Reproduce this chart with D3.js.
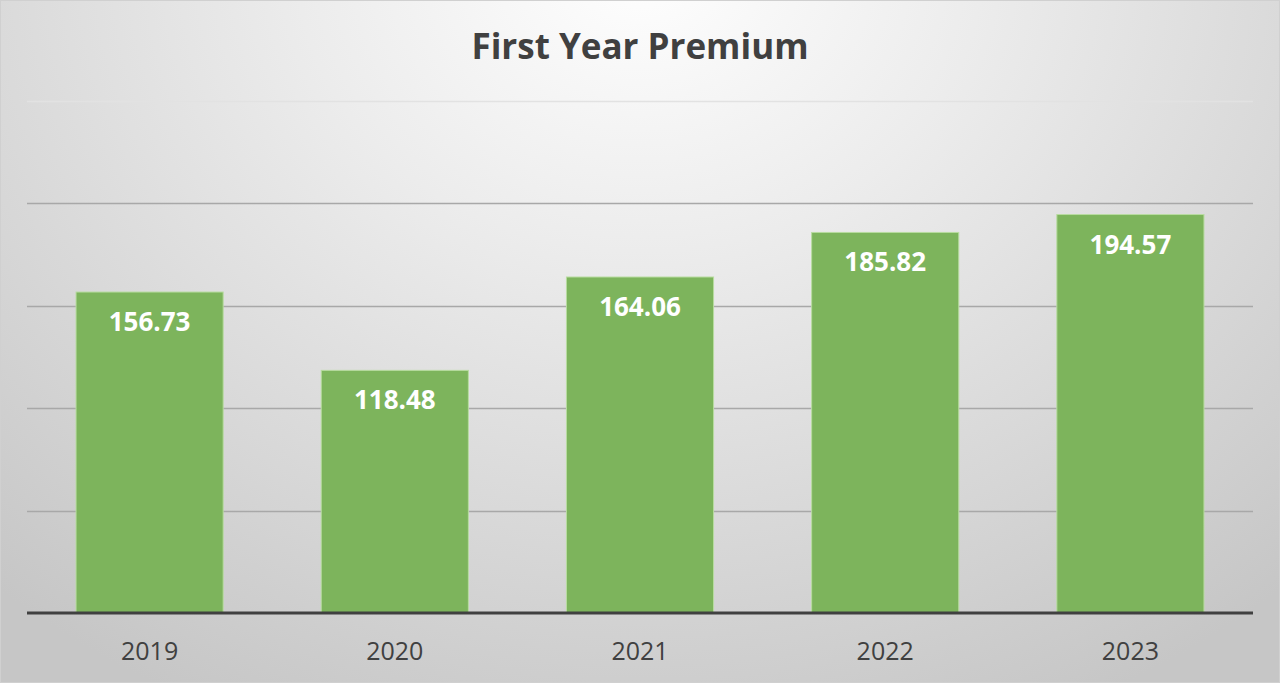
<!DOCTYPE html>
<html><head><meta charset="utf-8">
<script src="https://cdn.jsdelivr.net/npm/d3@7"></script>
<style>html,body{margin:0;padding:0;background:#fff}svg{display:block}</style>
</head><body><svg id="c" width="1280" height="683"></svg>
<script>
const categories = ["2019","2020","2021","2022","2023"];
const values = [156.73,118.48,164.06,185.82,194.57];
const yTicks = [0,50,100,150,200,250];
const title = "First Year Premium";

const W=1280,H=683;
const svg=d3.select("#c");
const defs=svg.append("defs");
const rg=defs.append("radialGradient").attr("id","bg").attr("gradientUnits","userSpaceOnUse")
  .attr("cx",640).attr("cy",-40).attr("r",980)
  .attr("gradientTransform","translate(640,-40) scale(1,0.85) translate(-640,40)");
rg.append("stop").attr("offset","0").attr("stop-color","#ffffff");
rg.append("stop").attr("offset","0.35").attr("stop-color","#ececec");
rg.append("stop").attr("offset","1").attr("stop-color","#c6c6c6");
svg.append("rect").attr("width",W).attr("height",H).attr("fill","url(#bg)");
svg.append("rect").attr("x",0.5).attr("y",0.5).attr("width",W-1).attr("height",H-1).attr("fill","none").attr("stroke","#d0d0d0");

const pL=27,pR=1253,pT=101,pB=613;
const x=d3.scaleBand().domain(categories).range([pL,pR]).paddingInner(0.4).paddingOuter(0.2);
const y=d3.scaleLinear().domain([0,250]).range([pB,pT]);

svg.append("text").attr("x",640).attr("y",59).attr("text-anchor","middle")
  .attr("font-family","Open Sans").attr("font-weight","bold").attr("font-size",35)
  .attr("fill","#404040").text(title);

const grid=svg.append("g");
grid.selectAll("line").data(yTicks.filter(d=>d>0)).join("line")
  .attr("x1",pL).attr("x2",pR).attr("y1",d=>Math.round(y(d))+0.5).attr("y2",d=>Math.round(y(d))+0.5)
  .attr("stroke",d=>d===250?"#e2e2e2":"#a8a8a8").attr("stroke-width",1.5);

svg.append("g").selectAll("rect").data(values).join("rect")
  .attr("x",(d,i)=>x(categories[i])).attr("width",x.bandwidth())
  .attr("y",d=>y(d)).attr("height",d=>pB-y(d))
  .attr("fill","#7db45c").attr("stroke","#b8dca0").attr("stroke-width",1);

svg.append("g").selectAll("text").data(values).join("text")
  .attr("x",(d,i)=>x(categories[i])+x.bandwidth()/2).attr("y",d=>y(d)+39)
  .attr("text-anchor","middle").attr("font-family","Open Sans").attr("font-weight","bold")
  .attr("font-size",26).attr("fill","#ffffff").text(d=>d.toFixed(2));

const ax=svg.append("g").attr("transform",`translate(0,${pB})`)
  .call(d3.axisBottom(x).tickSize(0).tickPadding(29));
ax.select(".domain").remove();
ax.selectAll("text").attr("font-family","Open Sans").attr("font-size",25).attr("fill","#404040");
svg.append("line").attr("x1",pL).attr("x2",pR).attr("y1",pB).attr("y2",pB)
  .attr("stroke","#404040").attr("stroke-width",3);
</script></body></html>
